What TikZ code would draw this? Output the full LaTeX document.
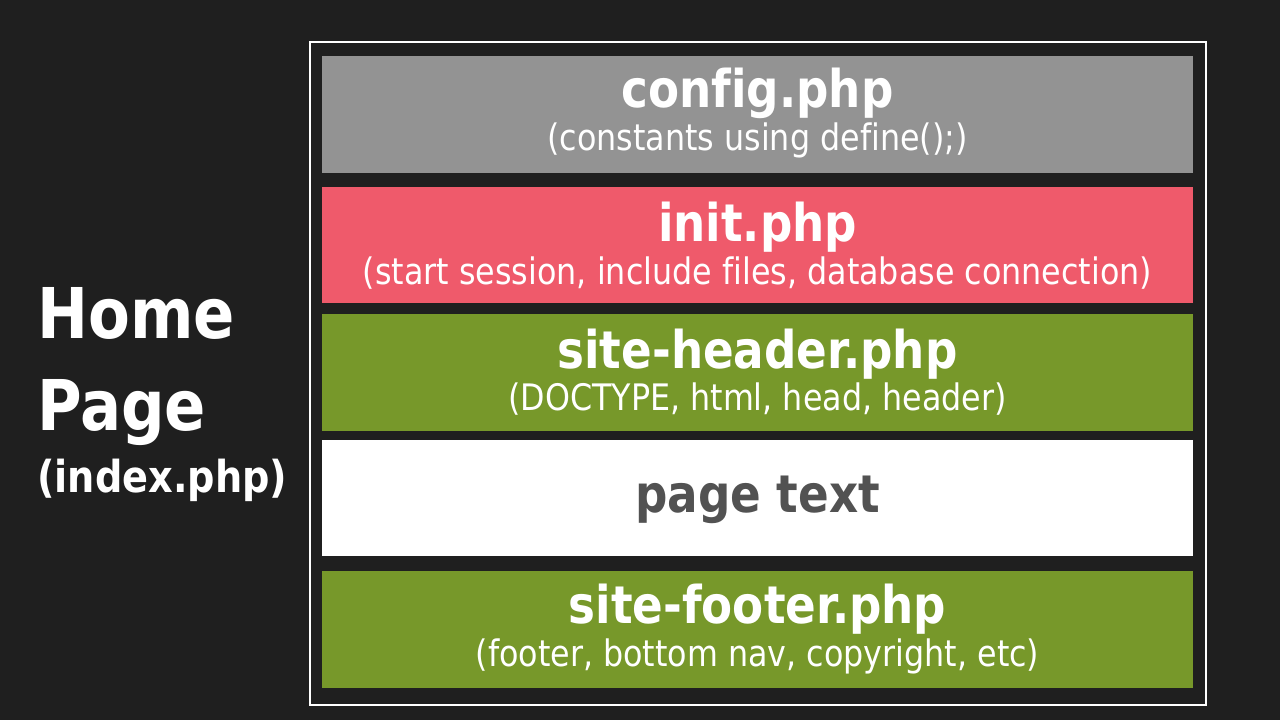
\documentclass[tikz,border=0pt]{standalone}
\usepackage{fontspec}
\setmainfont{DejaVu Sans}[FakeStretch=0.87, Ligatures=NoCommon]
\usepackage{tikz}
\usepackage{xcolor}
\usetikzlibrary{positioning, calc}

\definecolor{bgdark}{HTML}{1F1F1F}
\definecolor{cfggray}{HTML}{939393}
\definecolor{initred}{HTML}{EF5A6B}
\definecolor{incgreen}{HTML}{77982A}
\definecolor{pagegray}{HTML}{525252}

\begin{document}
\begin{tikzpicture}[
    x=1pt, y=-1pt,
    % Stacked file bands
    band/.style={inner sep=0pt, minimum width=871pt, minimum height=117pt},
    filetitle/.style={anchor=base, text=white, font=\fontsize{52}{60}\selectfont\bfseries, inner sep=0pt},
    filenote/.style={anchor=base, text=white, font=\fontsize{36.5}{44}\selectfont, inner sep=0pt},
    % Page caption on the left
    caption/.style={anchor=base west, text=white, font=\fontsize{70}{80}\selectfont\bfseries, inner sep=0pt}
]

% Background and frame
\fill[bgdark] (0,0) rectangle (1280,720);
\useasboundingbox (0,0) rectangle (1280,720);
\node[draw=white, line width=2pt, inner sep=0pt, minimum width=896pt, minimum height=663pt] (frame) at (758,373.5) {};

% Bands, top to bottom
\node[band, fill=cfggray] (config) at (757.5,114.5) {};
\node[band, fill=initred, minimum height=116pt] (init) at (757.5,245) {};
\node[band, fill=incgreen] (header) at (757.5,372.5) {};
\node[band, fill=white, minimum height=116pt] (pagetext) at (757.5,498) {};
\node[band, fill=incgreen] (footer) at (757.5,629.5) {};

% Band labels
\node[filetitle] (config_t) at ([yshift=7.5pt]config.center) {config.php};
\node[filenote] (config_n) at ([yshift=-35.5pt]config.center) {(constants using define();)};

\node[filetitle] (init_t) at ([yshift=4pt]init.center) {init.php};
\node[filenote] (init_n) at ([yshift=-39pt]init.center) {(start session, include files, database connection)};

\node[filetitle] (header_t) at ([yshift=4.5pt]header.center) {site-header.php};
\node[filenote] (header_n) at ([yshift=-37.5pt]header.center) {(DOCTYPE, html, head, header)};

\node[filetitle, text=pagegray] (pagetext_t) at ([yshift=-14pt]pagetext.center) {page text};

\node[filetitle] (footer_t) at ([yshift=6pt]footer.center) {site-footer.php};
\node[filenote] (footer_n) at ([yshift=-36.5pt]footer.center) {(footer, bottom nav, copyright, etc)};

% Left caption
\node[caption] (home) at (37,338) {Home};
\node[caption] (page) at (37,430) {Page};
\node[caption, font=\fontsize{44}{50}\selectfont\bfseries] (index) at (37,492) {(index.php)};

\end{tikzpicture}
\end{document}
